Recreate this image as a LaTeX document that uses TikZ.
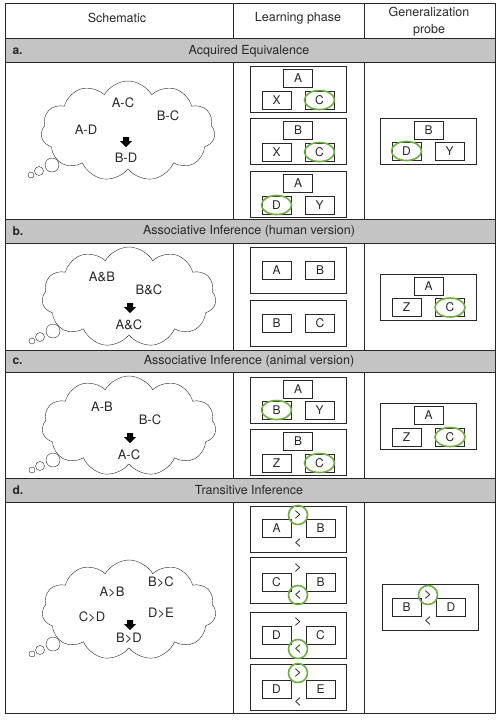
\documentclass[tikz,border=0pt]{standalone}
\usepackage{fontspec}
\setmainfont{TeX Gyre Heros}
\usetikzlibrary{shapes.geometric,shapes.symbols}
\definecolor{pickgreen}{RGB}{112,173,71}
\definecolor{bandgray}{RGB}{196,196,196}
\definecolor{ink}{RGB}{40,40,40}
\tikzset{
  headtext/.style={font=\fontsize{12.5}{17}\selectfont, align=center, text=ink},
  bandtext/.style={font=\fontsize{12.5}{15}\selectfont, text=ink},
  bandtag/.style={font=\bfseries\fontsize{12}{14}\selectfont, anchor=west, text=ink},
  trialbox/.style={draw=ink, minimum width=96, minimum height=46, inner sep=0},
  stimbox/.style={draw=ink, minimum width=29, minimum height=18, inner sep=0, font=\fontsize{12}{14}\selectfont, text=ink},
  pick/.style={ellipse, draw=pickgreen, line width=1.6, minimum width=30, minimum height=19, inner sep=0},
  ring/.style={circle, draw=pickgreen, line width=1.6, minimum size=19, inner sep=0},
  relsign/.style={font=\fontsize{14}{16}\selectfont, inner sep=0, text=ink},
  thought/.style={cloud, draw=ink, cloud puffs=11, cloud puff arc=120, aspect=1.75, minimum width=174, minimum height=100, inner sep=0},
  bubble/.style={circle, draw=ink, inner sep=0},
  pairtext/.style={font=\fontsize{13}{15}\selectfont, text=ink, inner sep=0},
  infer/.pic={\fill[black] (-3,-5) -- (3,-5) -- (3,-1) -- (6,-1) -- (0,5) -- (-6,-1) -- (-3,-1) -- cycle;}
}
\begin{document}
\begin{tikzpicture}[x=1pt, y=-1pt]
    \useasboundingbox (0,0) rectangle (500,720);
    % table frame and grey bands
    \draw[ink, fill=bandgray] (5,38) rectangle (495,62);
    \draw[ink, fill=bandgray] (5,219) rectangle (495,243);
    \draw[ink, fill=bandgray] (5,350) rectangle (495,372);
    \draw[ink, fill=bandgray] (5,478) rectangle (495,502);
    \draw[ink, line width=0.9] (5,3) rectangle (495,713);
    \foreach \ya/\yb in {3/38, 62/219, 243/350, 372/478, 502/713} {
        \draw[ink] (233,\ya) -- (233,\yb);
        \draw[ink] (364,\ya) -- (364,\yb);
    }
    % header
    \node[headtext] (h0) at (117,18) {Schematic};
    \node[headtext] (h1) at (298,18) {Learning phase};
    \node[headtext] (h2) at (429,22) {Generalization\\probe};
    \node[bandtag] (ta) at (9,51) {a.};
    \node[bandtext] (la) at (249,51) {Acquired Equivalence};
    \node[bandtag] (tb) at (9,231) {b.};
    \node[bandtext] (lb) at (249,231) {Associative Inference (human version)};
    \node[bandtag] (tc) at (9,361) {c.};
    \node[bandtext] (lc) at (249,361) {Associative Inference (animal version)};
    \node[bandtag] (td) at (9,490) {d.};
    \node[bandtext] (ld) at (249,490) {Transitive Inference};

    % a. acquired equivalence
    \node[thought] (ca) at (128,131) {};
    \node[bubble, minimum size=14] (ca1) at (52,165) {};
    \node[bubble, minimum size=9] (ca2) at (39,171) {};
    \node[bubble, minimum size=6] (ca3) at (31,175) {};
    \node[pairtext] (pa1) at (123,103) {A-C};
    \node[pairtext] (pa2) at (168,116) {B-C};
    \node[pairtext] (pa3) at (86,130) {A-D};
    \pic at (126,142) {infer};
    \node[pairtext] (pa4) at (126,158) {B-D};
    \node[trialbox] (a1) at (298.5,89.5) {};
    \node[stimbox] (a1t) at (298,78) {A};
    \node[stimbox] (a1l) at (276.5,100) {X};
    \node[stimbox] (a1r) at (319.5,100) {C};
    \node[pick] at (a1r) {};
    \node[trialbox] (a2) at (298.5,141) {};
    \node[stimbox] (a2t) at (298,130) {B};
    \node[stimbox] (a2l) at (276.5,152) {X};
    \node[stimbox] (a2r) at (319.5,152) {C};
    \node[pick] at (a2r) {};
    \node[trialbox] (a3) at (298.5,194) {};
    \node[stimbox] (a3t) at (298,183) {A};
    \node[stimbox] (a3l) at (276.5,205) {D};
    \node[stimbox] (a3r) at (319.5,205) {Y};
    \node[pick] at (a3l) {};
    \node[trialbox] (ga) at (428,141) {};
    \node[stimbox] (gat) at (428.5,130) {B};
    \node[stimbox] (gal) at (406.5,151) {D};
    \node[stimbox] (gar) at (449.5,151) {Y};
    \node[pick] at (gal) {};

    % b. associative inference, human
    \node[thought] (cb) at (129,297) {};
    \node[bubble, minimum size=14] (cb1) at (53,331) {};
    \node[bubble, minimum size=9] (cb2) at (40,337) {};
    \node[bubble, minimum size=6] (cb3) at (32,341) {};
    \node[pairtext] (pb1) at (102,277) {A\&B};
    \node[pairtext] (pb2) at (149,290) {B\&C};
    \pic at (130,308) {infer};
    \node[pairtext] (pb3) at (129,325) {A\&C};
    \node[trialbox] (b1) at (298.5,270.5) {};
    \node[stimbox] (b1l) at (276.5,270.5) {A};
    \node[stimbox] (b1r) at (320,270.5) {B};
    \node[trialbox] (b2) at (298.5,323) {};
    \node[stimbox] (b2l) at (276.5,323) {B};
    \node[stimbox] (b2r) at (320,323) {C};
    \node[trialbox] (gb) at (428,297.5) {};
    \node[stimbox] (gbt) at (428.5,286.5) {A};
    \node[stimbox] (gbl) at (406.5,307.5) {Z};
    \node[stimbox] (gbr) at (450,307.5) {C};
    \node[pick] at (gbr) {};

    % c. associative inference, animal
    \node[thought] (cc) at (129,426) {};
    \node[bubble, minimum size=14] (cc1) at (53,460) {};
    \node[bubble, minimum size=9] (cc2) at (40,466) {};
    \node[bubble, minimum size=6] (cc3) at (32,470) {};
    \node[pairtext] (pc1) at (102,407) {A-B};
    \node[pairtext] (pc2) at (150,420) {B-C};
    \pic at (130,438) {infer};
    \node[pairtext] (pc3) at (129,455) {A-C};
    \node[trialbox] (c1) at (298.5,400) {};
    \node[stimbox] (c1t) at (298,389) {A};
    \node[stimbox] (c1l) at (276.5,410) {B};
    \node[stimbox] (c1r) at (319.5,410) {Y};
    \node[pick] at (c1l) {};
    \node[trialbox] (c2) at (298.5,452) {};
    \node[stimbox] (c2t) at (298,441) {B};
    \node[stimbox] (c2l) at (276.5,463) {Z};
    \node[stimbox] (c2r) at (319.5,463) {C};
    \node[pick] at (c2r) {};
    \node[trialbox] (gc) at (428,426.5) {};
    \node[stimbox] (gct) at (428.5,415) {A};
    \node[stimbox] (gcl) at (406.5,437) {Z};
    \node[stimbox] (gcr) at (450,437) {C};
    \node[pick] at (gcr) {};

    % d. transitive inference
    \node[thought] (cd) at (129,610) {};
    \node[bubble, minimum size=14] (cd1) at (53,644) {};
    \node[bubble, minimum size=9] (cd2) at (40,650) {};
    \node[bubble, minimum size=6] (cd3) at (32,654) {};
    \node[pairtext] (pd1) at (112,592) {A>B};
    \node[pairtext] (pd2) at (161,582) {B>C};
    \node[pairtext] (pd3) at (92,617) {C>D};
    \node[pairtext] (pd4) at (161,613) {D>E};
    \pic at (130,625) {infer};
    \node[pairtext] (pd5) at (129,638) {B>D};
    \node[trialbox] (d1) at (298.5,529) {};
    \node[stimbox] (d1l) at (276.5,528.5) {A};
    \node[stimbox] (d1r) at (320.5,528.5) {B};
    \node[relsign] (d1g) at (298,515) {>};
    \node[relsign] (d1s) at (298,543) {<};
    \node[ring] at (d1g) {};
    \node[trialbox] (d2) at (298.5,580.5) {};
    \node[stimbox] (d2l) at (276.5,582) {C};
    \node[stimbox] (d2r) at (320.5,582) {B};
    \node[relsign] (d2g) at (298,568) {>};
    \node[relsign] (d2s) at (298,595) {<};
    \node[ring] at (d2s) {};
    \node[trialbox] (d3) at (298.5,635) {};
    \node[stimbox] (d3l) at (276.5,635.5) {D};
    \node[stimbox] (d3r) at (320.5,635.5) {C};
    \node[relsign] (d3g) at (298,622) {>};
    \node[relsign] (d3s) at (298,649) {<};
    \node[ring] at (d3s) {};
    \node[trialbox] (d4) at (298.5,687.5) {};
    \node[stimbox] (d4l) at (276.5,689) {D};
    \node[stimbox] (d4r) at (320.5,689) {E};
    \node[relsign] (d4g) at (298,673) {>};
    \node[relsign] (d4s) at (298,702) {<};
    \node[ring] at (d4g) {};
    \node[trialbox] (gd) at (430,607) {};
    \node[stimbox] (gdl) at (406.5,607.5) {B};
    \node[stimbox] (gdr) at (451,607.5) {D};
    \node[relsign] (gdg) at (428,595) {>};
    \node[relsign] (gds) at (428,621) {<};
    \node[ring] at (gdg) {};
\end{tikzpicture}
\end{document}
